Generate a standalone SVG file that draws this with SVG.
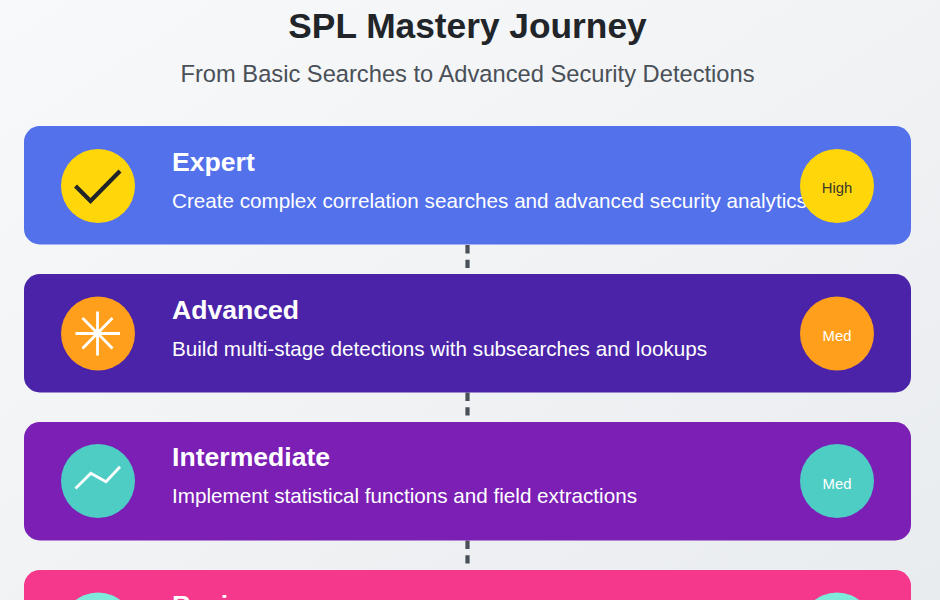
<svg xmlns="http://www.w3.org/2000/svg" width="940" height="600" viewBox="0 0 940 600">
<style>
text{font-family:"Liberation Sans",Arial,sans-serif}
.t{font-size:26.6px;font-weight:700;fill:#fff}
.d{font-size:20.67px;fill:#fff}
.b{font-size:14.8px;text-anchor:middle;fill:#fff}
.i{fill:none;stroke:#fff;stroke-width:2.8}
</style>
<defs><linearGradient id="bg" x1="0" y1="0" x2="1" y2="1"><stop offset="0" stop-color="#f8f9fa"/><stop offset="1" stop-color="#e9ecef"/></linearGradient></defs>
<rect width="940" height="600" fill="url(#bg)"/>
<text x="467.500" y="38" fill="#212529" text-anchor="middle" font-weight="700" style="font-size:35.300px">SPL Mastery Journey</text>
<text x="467.500" y="82" fill="#495057" text-anchor="middle" style="font-size:23.700px">From Basic Searches to Advanced Security Detections</text>
<g id="connectors" stroke="#495057" stroke-width="4.200" stroke-dasharray="8.400 6.300">
<line x1="467.500" y1="245" x2="467.500" y2="274"/>
<line x1="467.500" y1="392.500" x2="467.500" y2="422"/>
<line x1="467.500" y1="540.500" x2="467.500" y2="570"/>
</g>
<g id="expert">
<rect x="24" y="126" width="887" height="118.500" rx="15.800" fill="#5271eb"/>
<circle cx="98" cy="186" r="37" fill="#ffd60a"/>
<path d="M75.500 186L90.500 201L120 171" fill="none" stroke="#212529" stroke-width="4.200"/>
<text class="t" x="172" y="171">Expert</text>
<text class="d" x="172" y="208">Create complex correlation searches and advanced security analytics</text>
<circle cx="837" cy="186" r="37" fill="#ffd60a"/>
<text class="b" x="837" y="192.500" style="fill:#3a3a2a">High</text>
</g>
<g id="advanced">
<rect x="24" y="274" width="887" height="118.500" rx="15.800" fill="#4a23a8"/>
<circle cx="98" cy="333.500" r="37" fill="#ff9f1c"/>
<path class="i" d="M97.500 311.500V355.500M75.500 333.500H120M82.500 318L112.500 348.500M112.500 318L82.500 348.500"/>
<text class="t" x="172" y="319">Advanced</text>
<text class="d" x="172" y="356">Build multi-stage detections with subsearches and lookups</text>
<circle cx="837" cy="333.500" r="37" fill="#ff9f1c"/>
<text class="b" x="837" y="340.500">Med</text>
</g>
<g id="intermediate">
<rect x="24" y="422" width="887" height="118.500" rx="15.800" fill="#7b1fb5"/>
<circle cx="98" cy="481" r="37" fill="#4ecdc4"/>
<path class="i" d="M75.500 488.500L90.800 473.300L106 481.700L120 466.700"/>
<text class="t" x="172" y="466">Intermediate</text>
<text class="d" x="172" y="503">Implement statistical functions and field extractions</text>
<circle cx="837" cy="481" r="37" fill="#4ecdc4"/>
<text class="b" x="837" y="488.500">Med</text>
</g>
<g id="basic">
<rect x="24" y="570" width="887" height="118.500" rx="15.800" fill="#f5388c"/>
<circle cx="98" cy="629.500" r="37" fill="#7fe9dc"/>
<text class="t" x="172" y="614">Basic</text>
<circle cx="837" cy="629.500" r="37" fill="#7fe9dc"/>
</g>
</svg>
